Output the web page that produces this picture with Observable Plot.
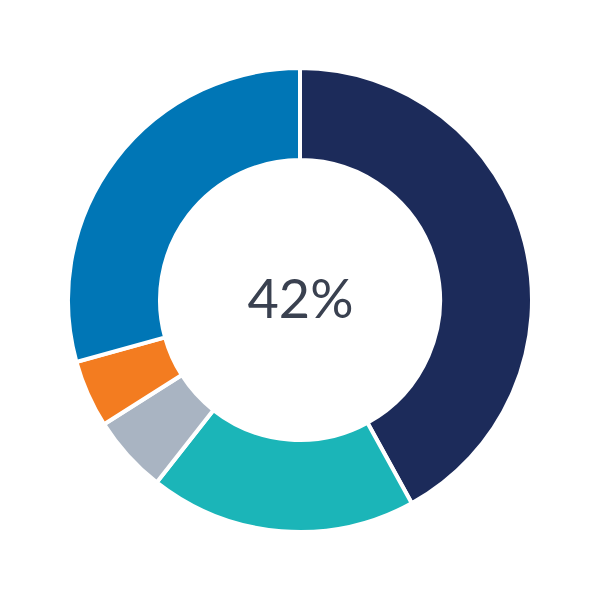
<!DOCTYPE html>
<html>
<head>
<meta charset="utf-8">
<script src="https://cdn.jsdelivr.net/npm/d3@7"></script>
<script src="https://cdn.jsdelivr.net/npm/@observablehq/plot@0.6"></script>
<style>
  html, body { margin: 0; padding: 0; background: #fff; }
  #chart { width: 600px; height: 600px; }
</style>
</head>
<body>
<div id="chart"></div>
<script>
const categories = ["A", "B", "C", "D", "E"];
const values = [42, 18.6, 5.4, 4.7, 29.3];
const colors = ["#1c2b5a", "#1bb5b8", "#a9b4c2", "#f37c20", "#0076b6"];
const centerLabel = "42%";

const slices = categories.map((c, i) => ({category: c, value: values[i]}));
const arcs = d3.pie().sort(null).value(d => d.value)(slices);

const outerR = 232, innerR = 140;

function donutMark(index, scales, values_, dimensions) {
  const x = scales.x, y = scales.y;
  const cx = x(0), cy = y(0);
  const g = d3.create("svg:g");
  const arcGen = d3.arc().innerRadius(innerR).outerRadius(outerR);
  g.selectAll("path")
    .data(arcs)
    .join("path")
    .attr("transform", `translate(${cx},${cy})`)
    .attr("d", arcGen)
    .attr("fill", d => scales.color(d.data.category))
    .attr("stroke", "#fff")
    .attr("stroke-width", 4)
    .attr("stroke-linejoin", "miter");
  return g.node();
}

const chart = Plot.plot({
  width: 600,
  height: 600,
  margin: 0,
  x: {domain: [-300, 300], axis: null},
  y: {domain: [300, -300], axis: null},
  color: {domain: categories, range: colors},
  marks: [
    donutMark,
    Plot.text([centerLabel], {
      x: () => 0, y: () => 0, text: d => d,
      fontSize: 54, fontWeight: 400, fill: "#3a4150",
      fontFamily: "Lato, 'Open Sans', sans-serif"
    })
  ]
});
document.getElementById("chart").appendChild(chart);
</script>
</body>
</html>
